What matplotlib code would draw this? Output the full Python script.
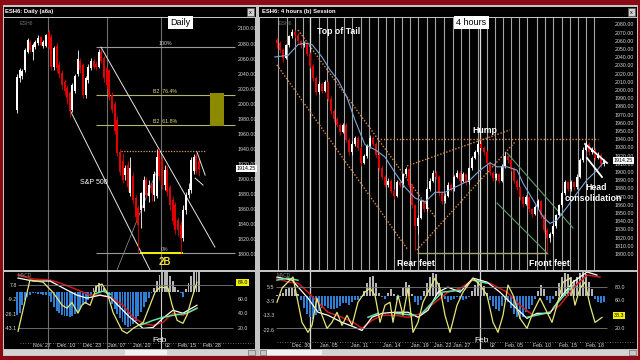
import numpy as np
import matplotlib
matplotlib.use('Agg')
import matplotlib.pyplot as plt
from matplotlib.patches import Rectangle

plt.rcParams['font.family'] = ['Liberation Sans', 'DejaVu Sans']

# ---------------- daily window (left) ----------------
d_open = [1993, 2035, 2037, 2045, 2070, 2083, 2070, 2076, 2081, 2089,
          2077, 2078, 2096, 2090, 2050, 2078, 2052, 2042, 2030, 2022,
          2015, 1992, 2018, 2040, 2058, 2052, 2012, 2032, 2048, 2058,
          2054, 2050, 2070, 2062, 2048, 2045, 2012, 2000, 1979, 1937,
          1925, 1906, 1920, 1882, 1905, 1875, 1862, 1860, 1862, 1900,
          1878, 1893, 1880, 1878, 1938, 1928, 1893, 1913, 1890, 1873,
          1866, 1846, 1840, 1822, 1860, 1880, 1886, 1912, 1932, 1925]
d_high = [2040, 2048, 2047, 2075, 2088, 2086, 2081, 2086, 2092, 2091,
          2085, 2094, 2099, 2093, 2078, 2082, 2058, 2045, 2033, 2026,
          2018, 2028, 2040, 2072, 2062, 2055, 2038, 2053, 2061, 2060,
          2057, 2073, 2073, 2064, 2050, 2047, 2016, 2004, 1985, 1940,
          1935, 1920, 1925, 1930, 1910, 1880, 1866, 1884, 1905, 1904,
          1900, 1896, 1911, 1940, 1941, 1932, 1920, 1918, 1893, 1878,
          1870, 1850, 1845, 1866, 1884, 1895, 1930, 1934, 1936, 1928]
d_low = [1988, 2030, 2033, 2043, 2068, 2070, 2059, 2074, 2079, 2077,
         2075, 2076, 2073, 2046, 2045, 2043, 2035, 2020, 2012, 2000,
         1983, 1990, 2015, 2038, 2042, 2008, 2008, 2028, 2045, 2047,
         2046, 2048, 2055, 2030, 2020, 2006, 1988, 1960, 1932, 1906,
         1895, 1900, 1885, 1878, 1868, 1845, 1803, 1836, 1858, 1876,
         1870, 1872, 1872, 1875, 1900, 1888, 1886, 1878, 1860, 1840,
         1828, 1825, 1802, 1818, 1855, 1876, 1882, 1908, 1908, 1905]
d_close = [2036, 2045, 2044, 2072, 2085, 2072, 2079, 2083, 2088, 2079,
           2083, 2092, 2076, 2050, 2075, 2048, 2040, 2025, 2018, 2008,
           1992, 2025, 2038, 2060, 2045, 2012, 2035, 2050, 2058, 2050,
           2050, 2070, 2058, 2035, 2025, 2010, 1993, 1965, 1936, 1910,
           1900, 1916, 1890, 1915, 1873, 1850, 1840, 1882, 1900, 1880,
           1893, 1882, 1907, 1930, 1905, 1893, 1913, 1883, 1866, 1845,
           1833, 1833, 1822, 1860, 1880, 1887, 1926, 1930, 1912, 1914]
d_hist = [-27, -25, -15, -10, -6, -4, -2, -2, -3, -3,
          -4, -4, -5, -12, -18, -22, -25, -27, -28, -29,
          -30, -28, -26, -24, -20, -16, -14, -10, -4, 4,
          8, 10, 8, 4, -3, -8, -14, -20, -26, -31,
          -35, -39, -41, -40, -38, -34, -29, -24, -18, -12,
          -7, -2, 4, 12, 20, 25, 26, 24, 18, 12,
          6, 2, -2, -6, 3, 10, 18, 24, 28, 30]
d_macd_x = [0.4, 6.1, 12.5, 19, 22.7, 26.5, 31.5, 35.3, 39, 42.8, 47.8, 51.6, 55.3, 59.1, 62.9, 68.2]
d_macd = [16, 12.5, 12.5, 1.9, -4, -7.5, -4, -6.4, -18.2, -30, -43, -41.8, -31.1, -21.7, -25.2, -15.8]
d_sig_x = [0.4, 6.1, 12.5, 16.3, 21.2, 27.7, 31.5, 35.3, 40.2, 44, 47.8, 51.6, 55.3, 59.1, 62.9, 68.2]
d_sig = [19.6, 14.9, 13.7, 10.2, 4.3, -4, -4, -6.4, -15.8, -30, -37, -39.4, -35.9, -25.2, -27.6, -19.3]
d_grn_x = [29.5, 32.6, 35.3, np.nan, 46.6, 51.6, 55.3, 59.1, 64.4, 68.2]
d_grn = [-2.5, 0.7, -2.8, np.nan, -39.4, -33.5, -30, -27.6, -25.2, -19.3]
d_osc_x = [0.4, 4.9, 9.9, 13.6, 17.1, 19, 20.8, 23.1, 24.6, 25.8, 27.7, 30.3, 32.2, 34.1, 36.4,
           39.8, 41.7, 44, 47.8, 50.4, 52.3, 54.2, 57.2, 58.8, 60.7, 62.9, 64.4, 66.3, 68.2]
d_osc = [16, 87, 84, 70, 52, 48, 56, 41, 52, 56, 52, 78.6, 81.4, 70, 42,
         17, 13, 20, 28, 52, 70, 77, 76, 52, 31, 27, 38, 62, 84]
d_date_pos = [9.5, 18.5, 28.3, 37.8, 47.3, 57.2, 64.3, 73.8]
d_date_lab = ['Nov. 27', 'Dec. 10', 'Dec. 23', 'Jan. 07', 'Jan. 20', '02', 'Feb. 15', 'Feb. 28']
d_months = [11.75, 34.1, 54.6]
d_ticks = list(range(1800, 2101, 20))
d_macd_ticks = [7.8, -9.2, -26.1, -43.1]
d_osc_ticks = [60, 40, 20]
fib_lev = [2076, 2012.3, 1972.5, 1802.5]
fib_lab = ['100%', 'B2  76.4%', 'B2  61.8%', '0%']

# ---------------- 4 hour window (right) ----------------
h_open = [2062, 2058, 2050, 2040, 2055, 2066, 2072, 2068, 2060, 2055,
          2058, 2045, 2030, 2015, 1998, 2008, 2000, 2010, 1990, 1975,
          1965, 1958, 1950, 1958, 1940, 1925, 1935, 1942, 1930, 1912,
          1920, 1932, 1942, 1935, 1922, 1905, 1895, 1885, 1890, 1878,
          1872, 1888, 1885, 1898, 1904, 1885, 1860, 1835, 1845, 1865,
          1855, 1880, 1890, 1900, 1895, 1875, 1865, 1872, 1885, 1880,
          1895, 1900, 1890, 1898, 1888, 1905, 1918, 1925, 1935, 1930,
          1925, 1912, 1900, 1893, 1898, 1890, 1908, 1920, 1915, 1905,
          1890, 1882, 1870, 1862, 1870, 1855, 1850, 1858, 1865, 1848,
          1830, 1820, 1825, 1835, 1848, 1860, 1875, 1888, 1880, 1888,
          1882, 1895, 1915, 1928, 1935, 1925, 1928, 1918, 1922, 1910]
h_high = [2064, 2060, 2052, 2057, 2068, 2075, 2074, 2070, 2062, 2061,
          2060, 2047, 2033, 2018, 2012, 2010, 2013, 2012, 1993, 1978,
          1968, 1960, 1961, 1960, 1942, 1938, 1945, 1944, 1932, 1923,
          1935, 1946, 1944, 1937, 1924, 1908, 1897, 1893, 1892, 1880,
          1891, 1890, 1900, 1907, 1906, 1887, 1862, 1848, 1868, 1867,
          1883, 1893, 1903, 1902, 1897, 1877, 1875, 1888, 1887, 1897,
          1903, 1902, 1901, 1900, 1907, 1920, 1928, 1938, 1942, 1933,
          1927, 1914, 1902, 1900, 1900, 1910, 1925, 1922, 1917, 1907,
          1892, 1884, 1872, 1873, 1872, 1857, 1860, 1868, 1867, 1850,
          1832, 1828, 1838, 1850, 1862, 1878, 1891, 1890, 1891, 1890,
          1898, 1918, 1931, 1938, 1937, 1931, 1930, 1925, 1924, 1917]
h_low = [2052, 2046, 2035, 2038, 2053, 2064, 2064, 2057, 2052, 2053,
         2042, 2027, 2012, 1995, 1996, 1997, 1998, 1987, 1972, 1962,
         1955, 1946, 1948, 1937, 1921, 1922, 1932, 1927, 1908, 1910,
         1918, 1930, 1932, 1919, 1902, 1892, 1882, 1883, 1875, 1868,
         1870, 1882, 1883, 1896, 1882, 1857, 1805, 1825, 1843, 1852,
         1853, 1878, 1888, 1892, 1872, 1862, 1863, 1870, 1877, 1878,
         1893, 1887, 1888, 1885, 1886, 1903, 1916, 1923, 1927, 1922,
         1909, 1897, 1890, 1891, 1887, 1888, 1906, 1912, 1902, 1887,
         1879, 1867, 1858, 1860, 1852, 1846, 1848, 1856, 1845, 1827,
         1803, 1815, 1823, 1833, 1846, 1858, 1873, 1877, 1878, 1879,
         1880, 1893, 1913, 1926, 1922, 1923, 1915, 1916, 1907, 1908]
h_close = [2058, 2050, 2040, 2055, 2066, 2072, 2068, 2060, 2055, 2058,
           2045, 2030, 2015, 1998, 2008, 2000, 2010, 1990, 1975, 1965,
           1958, 1950, 1958, 1940, 1925, 1935, 1942, 1930, 1912, 1920,
           1932, 1942, 1935, 1922, 1905, 1895, 1885, 1890, 1878, 1872,
           1888, 1885, 1898, 1904, 1885, 1860, 1835, 1845, 1865, 1855,
           1880, 1890, 1900, 1895, 1875, 1865, 1872, 1885, 1880, 1895,
           1900, 1890, 1898, 1888, 1905, 1918, 1925, 1935, 1930, 1925,
           1912, 1900, 1893, 1898, 1890, 1908, 1920, 1915, 1905, 1890,
           1882, 1870, 1862, 1870, 1855, 1850, 1858, 1865, 1848, 1830,
           1820, 1825, 1835, 1848, 1860, 1875, 1888, 1880, 1888, 1882,
           1895, 1915, 1928, 1935, 1925, 1928, 1918, 1922, 1910, 1914]
h_hist = [0.5, 1, 2, 4, 5, 5, 4, 1, -3, -8,
          -12, -14, -15, -13, -10, -8, -7, -8, -9, -9,
          -8, -7, -5, -5, -6, -4, -3, -3, -1, 3,
          8, 12, 13, 8, 2, -1, -2, 2, 4, 1,
          -3, -1, 5, 9, 7, 1, -4, -6, -3, 3,
          8, 12, 15, 14, 8, 2, -2, -4, -3, -2,
          -1, -2, -3, -2, -1, 3, 7, 10, 9, 6,
          2, -3, -7, -9, -10, -7, -3, -4, -8, -12,
          -14, -15, -14, -11, -9, -6, -2, 3, 7, 4,
          -3, -5, -2, 3, 8, 12, 15, 14, 12, 10,
          12, 15, 16, 14, 9, 4, -2, -4, -5, -4]
h_ma_x = [-0.7, 3.7, 7, 9.3, 11.7, 15, 17.7, 20.3, 23.3, 26, 29.3, 32.7, 36, 39.3, 42.7, 46, 49.3,
          52.7, 56, 59.3, 61, 64.3, 67.7, 71, 73.3, 76.7, 80, 82, 85.3, 88.7, 91, 93.3, 96.7,
          100, 103.3, 106.7, 108.7]
h_ma = [2041, 2043, 2056, 2058, 2056, 2041, 2025, 2013, 1992, 1964, 1934, 1928, 1919, 1900, 1882, 1869, 1864,
        1876, 1876, 1882, 1885, 1891, 1903, 1912, 1907, 1907, 1903, 1887, 1867, 1846, 1838, 1842, 1858,
        1875, 1891, 1903, 1912]
h_macd_x = [0, 5, 10.33, 13.67, 17, 21.67, 26, 28.33, 31.67, 35, 39.33, 43.67, 47, 50.33, 53.67, 57, 61,
            65.33, 70, 74.33, 78.67, 83.33, 86.67, 91, 94.33, 98.67, 103.33, 106.67]
h_macd = [12.1, 10.1, -1.7, -10.9, -12.9, -17.5, -20.8, -22.8, -14.2, -11.6, -10.9, -10.9, -14.2, -9.6, 2.2, 5.5, 2.2,
          11.4, 8.8, 2.2, -6.3, -14.9, -11.6, -11.6, -1.7, 8.8, 15.4, 13.4]
h_sig_x = [0, 3.67, 7, 10.33, 13.67, 17, 21.67, 26, 28.33, 31.67, 35, 39.33, 43.67, 48.33, 52.67, 57, 61,
           65.33, 71, 76.67, 81, 85.33, 90, 94.33, 98.67, 103.33, 107.67]
h_sig = [11.4, 8.8, 8.1, 2.2, -4.4, -10.9, -14.2, -18.2, -21.4, -16.2, -12.9, -12.9, -14.2, -11.6, -4.4, 2.2, 4.8,
         10.1, 8.1, 2.2, -6.3, -12.9, -11.6, -6.3, 4.8, 13.4, 12.1]
h_grn_x = [0, 3.67, 7, np.nan, 30.33, 33.67, np.nan, 39.33, 46, np.nan, 48.33, 55, 61, np.nan,
           65.33, 70, np.nan, 83.33, 91, np.nan, 92, 98.67]
h_grn = [10.1, 11.4, 10, np.nan, -14.2, -11.6, np.nan, -11.6, -12.9, np.nan, -11.6, 2.2, 3.5, np.nan,
         10.1, 8.1, np.nan, -14.2, -10.9, np.nan, -8.3, 6.8]
h_osc_x = [0, 1.67, 5.33, 8.33, 10.33, 11.67, 13.33, 15, 16.67, 18.33, 20, 21.67, 23.33, 25, 27,
           29.33, 31, 32.67, 34.33, 36, 37.67, 38.67, 40.33, 42, 43.67, 45.33, 47, 48.67, 50.33, 52.67,
           54.33, 56, 57.67, 60, 62, 65.33, 67.67, 70, 72, 73.67, 75.33, 77, 78.67, 81, 83.33,
           85.33, 87.67, 90, 91.67, 93.33, 95.33, 97.67, 99.33, 101, 102.67, 104.33, 106, 107, 108.33]
h_osc = [58, 78.5, 94.6, 28.8, 14.2, 24.4, 64, 39, 20, 28.8, 43.4, 24.4, 39, 24.4, 58,
         72.7, 78.5, 68.3, 28.8, 53.7, 58, 28.8, 68.3, 39, 78.5, 14.2, 28.8, 58, 72.7, 93,
         78.5, 39, 14.2, 53.7, 72.7, 93, 83, 68.3, 28.8, 14.2, 39, 83, 68.3, 34.6, 20,
         43.4, 64, 43.4, 28.8, 53.7, 87, 93, 53.7, 78.5, 87, 53.7, 28.8, 31.7, 36]
h_sessions = [0.33, 3.33, 6, 8.67, 11, 14, 16.67, 19.33, 22.33, 25, 28, 30.67, 33.67, 36.33, 39,
              41.67, 44.33, 47, 50, 52.67, 55.67, 58.67, 61.33, 64, 67, 70, 72.67, 75.33, 78,
              80.67, 83.33, 86.67, 89.33, 92, 95, 97.67, 100.33, 103, 105.67]
h_months = [11, 67.67]
h_date_pos = [8, 17.33, 27.67, 38.33, 47.67, 55.33, 61.67, 72, 79, 88.33, 97, 106]
h_date_lab = ['Dec. 30', 'Jan. 05', 'Jan. 11', 'Jan. 14', 'Jan. 19', 'Jan. 22', 'Jan. 27', '02',
              'Feb. 05', 'Feb. 10', 'Feb. 15', 'Feb. 18']
h_ticks = list(range(1800, 2081, 10))
h_macd_ticks = [5.5, -3.9, -13.3, -22.6]
h_osc_ticks = [80, 60, 40, 20]

W, H = 640, 360
RED, WHITE = '#e20000', '#ffffff'
sm = dict(fontsize=3.8, color='#d8d8d8')
note = dict(fontsize=6.3, color='white', fontweight='bold', ha='center', va='center')

fig = plt.figure(figsize=(6.4, 3.6), dpi=100, facecolor='#8b0b15')


def rect(x0, y0, x1, y1, fc, ec='none', z=-5):
    fig.add_artist(Rectangle((x0 / W, 1 - y1 / H), (x1 - x0) / W, (y1 - y0) / H,
                             transform=fig.transFigure, fc=fc, ec=ec, lw=0.5, zorder=z))


def ftxt(x, y, s, **kw):
    fig.text(x / W, 1 - y / H, s, **kw)


def axbox(x0, y0, x1, y1):
    a = fig.add_axes([x0 / W, 1 - y1 / H, (x1 - x0) / W, (y1 - y0) / H])
    a.set_facecolor('black')
    a.set_xticks([])
    a.set_yticks([])
    for s in a.spines.values():
        s.set_visible(False)
    return a


def candles(ax, o, h, l, c, w):
    o, h, l, c = map(np.array, (o, h, l, c))
    x = np.arange(len(o))
    col = np.where(c >= o, WHITE, RED)
    ax.vlines(x, l, h, colors=col, lw=0.6, zorder=3)
    ax.bar(x, np.maximum(np.abs(c - o), 0.8), bottom=np.minimum(o, c), width=w, color=col, lw=0, zorder=3)


# window frames
rect(2.5, 5, 257.5, 356, '#c4c4c4')
rect(257.5, 5, 638, 356, '#c4c4c4')
rect(4, 7, 256, 16.5, 'black')
rect(259, 7, 636.5, 16.5, 'black')
rect(4, 349.5, 256, 354.5, '#d4d4d4')
rect(125, 349.5, 167, 354.5, '#f2f2f2', z=-4)
rect(259, 349.5, 636.5, 354.5, '#d4d4d4')
rect(266, 349.5, 322, 354.5, '#f2f2f2', z=-4)
for bx in [(248, 350, 255, 354.5), (259.5, 350, 266, 354.5), (629, 350, 636, 354.5)]:
    rect(*bx, '#c8c8c8', ec='#707070', z=-3)
rect(247, 8.5, 254, 15.5, '#d0d0d0', ec='#606060', z=-3)
rect(628, 8.5, 635, 15.5, '#d0d0d0', ec='#606060', z=-3)
ftxt(250.5, 12, 'x', fontsize=4, color='black', ha='center', va='center')
ftxt(631.5, 12, 'x', fontsize=4, color='black', ha='center', va='center')
ftxt(5, 12, 'ESH6: Daily (a6a)', fontsize=4.2, color='white', fontweight='bold', va='center')
ftxt(262, 12, 'ESH6: 4 hours (b) Session', fontsize=4.2, color='white', fontweight='bold', va='center')

# ---------- left main ----------
axL = axbox(4, 18, 255, 270)
axL.set_xlim(-4.93, 90.2)
axL.set_ylim(1780, 2114.6)
for m in d_months:
    axL.axvline(m, color='#6e6e6e', lw=0.8, zorder=0)
axL.hlines(fib_lev, 30, 82.6, colors=['#9a9a9a', '#b4b46a', '#b4b46a', '#9a9a9a'], lw=0.8, zorder=1)
for lev, lab, c in zip(fib_lev, fib_lab, ['#d0d0d0', '#dede78', '#dede78', '#c0c0c0']):
    axL.text(56.1, lev + 2, lab, ha='center', va='bottom', fontsize=3.8, color=c)
axL.add_patch(Rectangle((73.2, 1971), 5.3, 44, fc='#8c8a00', ec='none', zorder=1))
axL.hlines(1802.5, 46.6, 63, color='#f2f000', lw=1.4, zorder=2)
axL.hlines(1938, 39.4, 71.3, color='#e09a60', lw=0.9, linestyles=(0, (1, 1.2)), zorder=2)
axL.plot([31.8, 75], [2076, 1810.5], color='#e6e6e6', lw=0.7, zorder=2)
axL.plot([20.1, 50.4], [1992.4, 1780], color='#e6e6e6', lw=0.7, zorder=2)
axL.plot([37.9, 54.2], [1780, 1922], color='#9a9a9a', lw=0.5, zorder=2)
axL.plot([68.2, 71.3], [1936.7, 1906], color='#e6e6e6', lw=0.7, zorder=4)
axL.plot([67.5, 70.5], [1902, 1892.8], color='#e6e6e6', lw=0.7, zorder=4)
candles(axL, d_open, d_high, d_low, d_close, 0.75)
for p in d_ticks:
    axL.text(0.932, p, f'{p:.2f}', transform=axL.get_yaxis_transform(), ha='left', va='center', **sm)
axL.text(0.928, 1914.25, '1914.25', transform=axL.get_yaxis_transform(), ha='left', va='center',
         fontsize=3.8, color='black', zorder=6, bbox=dict(boxstyle='square,pad=0.2', fc='white', ec='none'))
axL.text(0.064, 0.99, 'ESH6', transform=axL.transAxes, fontsize=3.8, color='#707070', va='top')

# ---------- left MACD ----------
axLm = axbox(4, 272, 255, 348.5)
axLm.set_xlim(-4.93, 90.2)
axLm.set_ylim(-66.5, 23.1)
for m in d_months:
    axLm.axvline(m, color='#d0d0d0' if m == d_months[-1] else '#6e6e6e', lw=0.8, zorder=0)
axLm.bar(np.arange(len(d_hist)), d_hist, width=0.7, lw=0, zorder=1,
         color=['#b4b4b4' if v >= 0 else '#2f7fd6' for v in d_hist])
axLm.plot(d_sig_x, d_sig, color='#d01818', lw=1.1, zorder=2)
axLm.plot(d_macd_x, d_macd, color='white', lw=0.9, zorder=3)
axLm.plot(d_grn_x, d_grn, color='#5ee8a0', lw=1.1, zorder=4)
for v in d_macd_ticks:
    axLm.text(0.052, v, f'{v}', transform=axLm.get_yaxis_transform(), ha='right', va='center', **sm)
for p, lab in zip(d_date_pos, d_date_lab):
    axLm.text(p, 0.045, lab, transform=axLm.get_xaxis_transform(), ha='center', va='center', **sm)
axLm.text(54.2, 0.11, 'Feb', transform=axLm.get_xaxis_transform(), ha='center', va='center',
          fontsize=6, color='white')
axLo = axLm.twinx()
axLo.set_ylim(-7.9, 98.1)
axLo.set_axis_off()
axLo.hlines([80, 20], 0.4, 81.9, color='#7a7a7a', lw=0.6)
axLo.hlines(0, 1.1, 89.4, color='#8a8a8a', lw=0.6, linestyles=(0, (1, 2)))
axLo.plot(d_osc_x, d_osc, color='#e6e67a', lw=0.9)
for v in d_osc_ticks:
    axLo.text(0.932, v, f'{v:.1f}', transform=axLo.get_yaxis_transform(), ha='left', va='center', **sm)
axLo.text(0.93, 84, '84.0', transform=axLo.get_yaxis_transform(), ha='left', va='center',
          fontsize=3.8, color='black', bbox=dict(boxstyle='square,pad=0.2', fc='#f0f000', ec='none'))
ftxt(18, 275.5, 'MACD', fontsize=3.5, color='#909090', va='center')

# ---------- right main ----------
axR = axbox(259.5, 18, 636.5, 270)
axR.set_xlim(-5.83, 119.83)
axR.set_ylim(1781.2, 2088.5)
for s in h_sessions:
    axR.axvline(s, color='#a4a4a4', lw=0.8, zorder=0)
for m in h_months:
    axR.axvline(m, color='#e0e0e0', lw=0.9, zorder=0)
dots = dict(color='#d98a45', lw=1.0, linestyle=(0, (1, 1.3)), zorder=2)
axR.plot([7, 52.67], [2073.9, 1845.9], **dots)
axR.plot([0, 43.67], [2031.2, 1805.6], **dots)
axR.plot([33.3, 107], [1941, 1941], **dots)
axR.plot([46.67, 79.33], [1805.6, 1937.3], **dots)
axR.plot([43.33, 77.67], [1908.1, 1952], **dots)
axR.plot([76.67, 98.67], [1923.9, 1832.4], color='#5f9a6a', lw=0.8, zorder=2)
axR.plot([73.33, 90.33], [1862.9, 1800.7], color='#5f9a6a', lw=0.8, zorder=2)
axR.hlines(1802, 46.67, 90, color='#a8a878', lw=1.0, zorder=2)
candles(axR, h_open, h_high, h_low, h_close, 0.7)
axR.plot(h_ma_x, h_ma, color='#7ea6d8', lw=0.8, zorder=4)
axR.plot([102.67, 110], [1934.9, 1911.7], color='white', lw=1.3, zorder=5)
axR.plot([103.33, 108.33], [1917.8, 1894.6], color='white', lw=1.3, zorder=5)
for p in h_ticks:
    axR.text(0.9415, p, f'{p:.2f}', transform=axR.get_yaxis_transform(), ha='left', va='center', **sm)
axR.text(0.94, 1914.25, '1914.25', transform=axR.get_yaxis_transform(), ha='left', va='center',
         fontsize=3.8, color='black', zorder=6, bbox=dict(boxstyle='square,pad=0.2', fc='white', ec='none'))
axR.text(0.05, 0.99, 'ESH6', transform=axR.transAxes, fontsize=3.8, color='#707070', va='top')

# ---------- right MACD ----------
axRm = axbox(259.5, 272, 636.5, 348.5)
axRm.set_xlim(-5.83, 119.83)
axRm.set_ylim(-34.6, 15.4)
for m in h_months:
    axRm.axvline(m, color='#d8d8d8', lw=0.9, zorder=0)
axRm.bar(np.arange(len(h_hist)), h_hist, width=0.75, lw=0, zorder=1,
         color=['#b4b4b4' if v >= 0 else '#2f7fd6' for v in h_hist])
axRm.plot(h_sig_x, h_sig, color='#d01818', lw=1.1, zorder=2)
axRm.plot(h_macd_x, h_macd, color='white', lw=0.9, zorder=3)
axRm.plot(h_grn_x, h_grn, color='#5ee8a0', lw=1.1, zorder=4)
for v in h_macd_ticks:
    axRm.text(0.04, v, f'{v}', transform=axRm.get_yaxis_transform(), ha='right', va='center', **sm)
for p, lab in zip(h_date_pos, h_date_lab):
    axRm.text(p, 0.045, lab, transform=axRm.get_xaxis_transform(), ha='center', va='center', **sm)
axRm.text(68.3, 0.11, 'Feb', transform=axRm.get_xaxis_transform(), ha='center', va='center',
          fontsize=6, color='white')
axRo = axRm.twinx()
axRo.set_ylim(-9.2, 101.9)
axRo.set_axis_off()
axRo.hlines([80, 20], -0.3, 110, color='#7a7a7a', lw=0.6)
axRo.hlines(0, 0, 119, color='#8a8a8a', lw=0.6, linestyles=(0, (1, 2)))
axRo.plot(h_osc_x, h_osc, color='#e6e67a', lw=0.9)
for v in h_osc_ticks:
    axRo.text(0.9415, v, f'{v:.1f}', transform=axRo.get_yaxis_transform(), ha='left', va='center', **sm)
axRo.text(0.94, 38.3, '38.3', transform=axRo.get_yaxis_transform(), ha='left', va='center',
          fontsize=3.8, color='black', bbox=dict(boxstyle='square,pad=0.2', fc='#f0f000', ec='none'))
ftxt(277, 275.5, 'MACD', fontsize=3.5, color='#909090', va='center')

# ---------- notes ----------
box = dict(boxstyle='square,pad=0.25', fc='white', ec='none')
ftxt(180.5, 22.5, 'Daily', fontsize=6.5, color='black', ha='center', va='center', bbox=box)
ftxt(471.5, 22.5, '4 hours', fontsize=6.5, color='black', ha='center', va='center', bbox=box)
ftxt(94, 182, 'S&P 500', fontsize=5, color='white', ha='center', va='center')
ftxt(165, 262, '2B', fontsize=7, color='#f0e040', fontweight='bold', ha='center', va='center')
ftxt(339, 32, 'Top of Tail', **note)
ftxt(485, 130, 'Hump', **note)
ftxt(596, 187, 'Head', **note)
ftxt(593, 198.5, 'consolidation', **note)
ftxt(416, 264, 'Rear feet', **note)
ftxt(549, 264, 'Front feet', **note)

fig.savefig('out.png', dpi=100, facecolor=fig.get_facecolor())
